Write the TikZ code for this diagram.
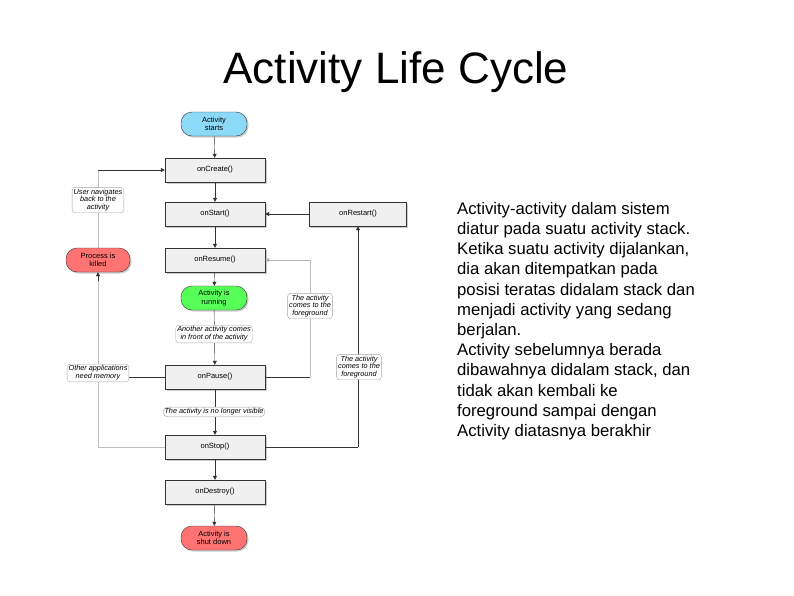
\documentclass[tikz,border=0pt]{standalone}
\usepackage{fontspec}
\setmainfont{Liberation Sans}
\usetikzlibrary{arrows.meta,shadows}
\begin{document}
\begin{tikzpicture}[x=1pt,y=-1pt,
  every node/.style={font=\fontsize{7.5}{8.5}\selectfont},
  fn/.style={draw=black!80,fill=gray!12,minimum width=100pt,minimum height=24pt,drop shadow={shadow xshift=1.5pt,shadow yshift=-1.5pt,opacity=.4}},
  term/.style={draw=black!80,rounded corners=11pt,minimum width=66pt,minimum height=24pt,align=center,inner sep=1pt,drop shadow={shadow xshift=1.5pt,shadow yshift=-1.5pt,opacity=.4}},
  lbl/.style={draw=gray!70,fill=white,rounded corners=3pt,align=center,inner sep=1.5pt,font=\fontsize{7.3}{7.8}\selectfont\itshape},
  arr/.style={-{Triangle[length=4pt,width=4pt]},black!80},
  ln/.style={black!80},
  gl/.style={gray!50}]
\useasboundingbox (0,0) rectangle (794,595);
\node at (396,72) {\fontsize{44}{48}\selectfont Activity Life Cycle};
\node[term,fill=cyan!45] (start) at (214,124) {Activity\\starts};
\node[fn] (create) at (215,170) {onCreate()};
\node[fn] (startf) at (215,214) {onStart()};
\node[fn,minimum width=97pt] (restart) at (358,214) {onRestart()};
\node[fn] (resume) at (215,260) {onResume()};
\node[term,fill=red!55,minimum width=64pt] (killed) at (98,260) {Process is\\killed};
\node[term,fill=green!65] (running) at (214,298) {Activity is\\running};
\node[fn] (pause) at (215,377) {onPause()};
\node[fn] (stop) at (215,447) {onStop()};
\node[fn] (destroy) at (215,492) {onDestroy()};
\node[term,fill=red!55] (shut) at (214,538) {Activity is\\shut down};
\coordinate (lt) at (98,170);
\coordinate (lb) at (98,447);
\coordinate (r1t) at (310,260);
\coordinate (r1b) at (310,377);
\coordinate (r2b) at (358,447);
\draw[arr] (start) -- (create);
\draw[arr] (create) -- (startf);
\draw[arr] (startf) -- (resume);
\draw[arr] (resume) -- (running);
\draw[arr] (running) -- (pause);
\draw[arr] (pause) -- (stop);
\draw[arr] (stop) -- (destroy);
\draw[arr] (destroy) -- (shut);
\draw[arr] (restart) -- (startf);
\draw[gl] (stop.west) -- (lb) -- (killed.south);
\draw[arr] (98,281) -- (killed.south);
\draw[gl] (killed.north) -- (lt);
\draw[arr] (lt) -- (create.west);
\draw[ln] (pause.west) -- (98,377);
\draw[gl] (r1b) -- (r1t);
\draw[ln] (pause.east) -- (r1b);
\draw[arr,gray!60] (r1t) -- (resume.east);
\draw[ln] (stop.east) -- (r2b);
\draw[arr] (r2b) -- (restart.south);
\node[lbl] (l1) at (98,200) {User navigates\\back to the\\activity};
\node[lbl] (l2) at (310,306) {The activity\\comes to the\\foreground};
\node[lbl] (l3) at (214,334) {Another activity comes\\in front of the activity};
\node[lbl] (l4) at (98,373) {Other applications\\need memory};
\node[lbl] (l5) at (359,367) {The activity\\comes to the\\foreground};
\node[lbl,rounded corners=5pt] (l6) at (214,412) {The activity is no longer visible};
\node[anchor=north west,align=left,font=\fontsize{16.7}{20.2}\selectfont,inner sep=0pt] (txt) at (457,202) {Activity-activity dalam sistem\\diatur pada suatu activity stack.\\Ketika suatu activity dijalankan,\\dia akan ditempatkan pada\\posisi teratas didalam stack dan\\menjadi activity yang sedang\\berjalan.\\Activity sebelumnya berada\\dibawahnya didalam stack, dan\\tidak akan kembali ke\\foreground sampai dengan\\Activity diatasnya berakhir};
\end{tikzpicture}
\end{document}
